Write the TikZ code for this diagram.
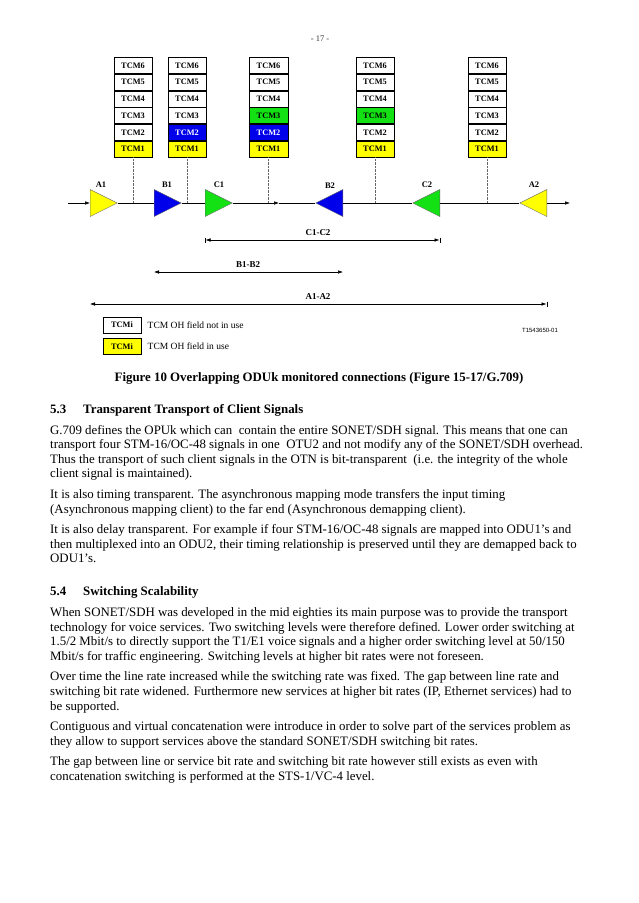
\documentclass[tikz,border=0pt]{standalone}
\usepackage{fontspec}
\setmainfont{Liberation Serif}
\newfontfamily\labelsans{Liberation Sans}
\usepackage{tikz}
\usetikzlibrary{shapes.geometric, arrows.meta, positioning}
\definecolor{tcmyellow}{RGB}{255,255,0}
\definecolor{tcmblue}{RGB}{0,0,235}
\definecolor{tcmgreen}{RGB}{20,225,20}
\tikzstyle{tcmbox} = [rectangle, draw=black, line width=0.5pt, minimum width=38.5pt, minimum height=16.2pt, inner sep=0pt, font=\fontsize{8.3}{9}\selectfont\bfseries]
\tikzstyle{tribox} = [isosceles triangle, isosceles triangle stretches, minimum width=27pt, minimum height=27pt, inner sep=0pt, draw=black!60, line width=0.4pt, anchor=lower side]
\tikzstyle{trileft} = [tribox, shape border rotate=180]
\tikzstyle{trilabel} = [inner sep=0pt, font=\fontsize{8.5}{9}\selectfont\bfseries]
\tikzstyle{mainline} = [line width=0.5pt]
\tikzstyle{tip} = [mainline, -{Latex[length=5pt,width=3.5pt]}]
\tikzstyle{spanline} = [line width=0.5pt, >={Latex[length=5pt,width=3.5pt]}]
\tikzstyle{dotline} = [line width=0.4pt, black!60, densely dotted]
\tikzstyle{keytext} = [inner sep=0pt, font=\fontsize{9.5}{11}\selectfont]
\tikzstyle{bodyline} = [anchor=base west, inner sep=0pt, font=\fontsize{12.86}{14.8}\selectfont]
\tikzstyle{headline} = [bodyline, font=\fontsize{12.86}{14.8}\selectfont\bfseries]

\begin{document}
\begin{tikzpicture}[x=1pt, y=-1pt]
\fill[white] (0,0) rectangle (638,903);
\useasboundingbox (0,0) rectangle (638,903);

\node (pageno) [font=\fontsize{8.5}{9}\selectfont, text=black!80] at (320,39) {- 17 -};

% line ends
\coordinate (lstart) at (68,203);
\coordinate (cmid) at (279,203);
\coordinate (lend) at (570,203);

% TCM stacks
\foreach \k/\x/\fa/\ta/\fb in {1/133/white/black/white, 2/187/tcmblue/white/white, 3/268.5/tcmblue/white/tcmgreen, 4/375/white/black/tcmgreen, 5/487/white/black/white} {
  \node (s\k r1) [tcmbox, fill=tcmyellow] at (\x,149) {TCM1};
  \node (s\k r2) [tcmbox, fill=\fa, text=\ta, above=0pt of s\k r1] {TCM2};
  \node (s\k r3) [tcmbox, fill=\fb, above=0pt of s\k r2] {TCM3};
  \node (s\k r4) [tcmbox, fill=white, above=0pt of s\k r3] {TCM4};
  \node (s\k r5) [tcmbox, fill=white, above=0pt of s\k r4] {TCM5};
  \node (s\k r6) [tcmbox, fill=white, above=0pt of s\k r5] {TCM6};
  \draw [dotline] (s\k r1.south) -- (s\k r1.south |- lstart);
}

% Monitoring points
\node (a1) [tribox, fill=tcmyellow] at (90,203) {};
\node (b1) [tribox, fill=tcmblue] at (154,203) {};
\node (c1) [tribox, fill=tcmgreen] at (205,203) {};
\node (b2) [trileft, fill=tcmblue] at (343,203) {};
\node (c2) [trileft, fill=tcmgreen] at (440,203) {};
\node (a2) [trileft, fill=tcmyellow] at (547,203) {};

\node (a1tag) [trilabel] at (101,185) {A1};
\node (b1tag) [trilabel] at (167,185) {B1};
\node (c1tag) [trilabel] at (219,185) {C1};
\node (b2tag) [trilabel] at (330,186) {B2};
\node (c2tag) [trilabel] at (427,185) {C2};
\node (a2tag) [trilabel] at (534,185) {A2};

% Signal path
\draw [tip] (lstart) -- (a1.lower side);
\draw [mainline] (a1.apex) -- (b1.lower side);
\draw [mainline] (b1.apex) -- (c1.lower side);
\draw [tip] (c1.apex) -- (cmid);
\draw [mainline] (cmid) -- (b2.apex);
\draw [mainline] (b2.lower side) -- (c2.apex);
\draw [mainline] (c2.lower side) -- (a2.apex);
\draw [tip] (a2.lower side) -- (lend);

% Monitored connections
\coordinate (ycc) at (0,240);
\coordinate (ybb) at (0,272);
\coordinate (yaa) at (0,304);
\draw [spanline, |<->|] (c1.lower side |- ycc) -- (c2.lower side |- ycc);
\draw [spanline, <->] (b1.lower side |- ybb) -- (b2.lower side |- ybb);
\draw [spanline, <->|] (a1.lower side |- yaa) -- (a2.lower side |- yaa);
\node (cspan) [trilabel, font=\fontsize{9}{10}\selectfont\bfseries] at (318,233) {C1-C2};
\node (bspan) [trilabel, font=\fontsize{9}{10}\selectfont\bfseries] at (248,265) {B1-B2};
\node (aspan) [trilabel, font=\fontsize{9}{10}\selectfont\bfseries] at (318,297) {A1-A2};

% Legend
\node (key1) [tcmbox, fill=white] at (122,325) {TCMi};
\node (key2) [tcmbox, fill=tcmyellow] at (122,346.5) {TCMi};
\node (key1txt) [keytext, right=6pt of key1] {TCM OH field not in use};
\node (key2txt) [keytext, right=6pt of key2] {TCM OH field in use};
\node (figref) [inner sep=0pt, font=\labelsans\fontsize{6}{7}\selectfont] at (540,330) {T1543650-01};

% Caption and text
\node (caption) [headline, anchor=base] at (319,381) {Figure 10 Overlapping ODUk monitored connections (Figure 15-17/G.709)};

\node (h53) [headline] at (50,413) {\makebox[33pt][l]{5.3}Transparent Transport of Client Signals};
\node (l1) [bodyline] at (50,434) {G.709 defines the OPUk which can\ \ contain the entire SONET/SDH signal. This means that one can};
\node (l2) [bodyline] at (50,448.6) {transport four STM-16/OC-48 signals in one\ \ OTU2 and not modify any of the SONET/SDH overhead.};
\node (l3) [bodyline] at (50,463.2) {Thus the transport of such client signals in the OTN is bit-transparent\ \ (i.e. the integrity of the whole};
\node (l4) [bodyline] at (50,477.8) {client signal is maintained).};
\node (l5) [bodyline] at (50,498.4) {It is also timing transparent. The asynchronous mapping mode transfers the input timing};
\node (l6) [bodyline] at (50,513) {(Asynchronous mapping client) to the far end (Asynchronous demapping client).};
\node (l7) [bodyline] at (50,533.6) {It is also delay transparent. For example if four STM-16/OC-48 signals are mapped into ODU1’s and};
\node (l8) [bodyline] at (50,548.2) {then multiplexed into an ODU2, their timing relationship is preserved until they are demapped back to};
\node (l9) [bodyline] at (50,562.8) {ODU1’s.};

\node (h54) [headline] at (50,595.5) {\makebox[33pt][l]{5.4}Switching Scalability};
\node (l10) [bodyline] at (50,616.5) {When SONET/SDH was developed in the mid eighties its main purpose was to provide the transport};
\node (l11) [bodyline] at (50,631.1) {technology for voice services. Two switching levels were therefore defined. Lower order switching at};
\node (l12) [bodyline] at (50,645.7) {1.5/2 Mbit/s to directly support the T1/E1 voice signals and a higher order switching level at 50/150};
\node (l13) [bodyline] at (50,660.3) {Mbit/s for traffic engineering. Switching levels at higher bit rates were not foreseen.};
\node (l14) [bodyline] at (50,680.9) {Over time the line rate increased while the switching rate was fixed. The gap between line rate and};
\node (l15) [bodyline] at (50,695.5) {switching bit rate widened. Furthermore new services at higher bit rates (IP, Ethernet services) had to};
\node (l16) [bodyline] at (50,710.1) {be supported.};
\node (l17) [bodyline] at (50,730.7) {Contiguous and virtual concatenation were introduce in order to solve part of the services problem as};
\node (l18) [bodyline] at (50,745.3) {they allow to support services above the standard SONET/SDH switching bit rates.};
\node (l19) [bodyline] at (50,765.9) {The gap between line or service bit rate and switching bit rate however still exists as even with};
\node (l20) [bodyline] at (50,780.5) {concatenation switching is performed at the STS-1/VC-4 level.};

\end{tikzpicture}
\end{document}
